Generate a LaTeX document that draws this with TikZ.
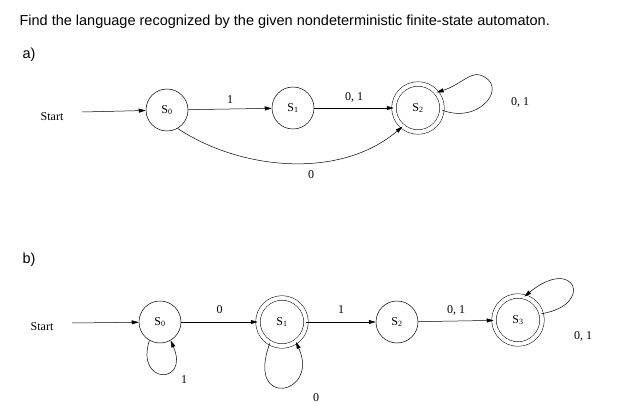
\documentclass[tikz,border=0pt]{standalone}
\usepackage{fontspec}
\setmainfont{Liberation Serif}
\newfontfamily\titlefont{Liberation Sans}
\usetikzlibrary{arrows.meta}
\begin{document}
\begin{tikzpicture}[x=1pt,y=-1pt,
  st/.style={circle,draw,line width=0.5pt,minimum size=42pt,inner sep=0pt,font=\fontsize{12}{13}\selectfont},
  acc/.style={st,double,double distance=4pt,minimum size=48pt},
  lbl/.style={font=\fontsize{12}{13}\selectfont},
  ttl/.style={font=\titlefont\fontsize{14.5}{16}\selectfont,anchor=west},
  tr/.style={-{Triangle[length=7pt,width=4pt]},line width=0.5pt}]
\useasboundingbox (0,0) rectangle (624,417);
\node[ttl] (t) at (16,22) {Find the language recognized by the given nondeterministic finite-state automaton.};
\node[ttl] (la) at (19,55) {a)};
\node[ttl] (lb) at (19,260) {b)};
% a
\node[lbl] (starta) at (52,117) {Start};
\coordinate (sa) at (82,112);
\node[st] (a0) at (167,110) {S\textsubscript{0}};
\node[st] (a1) at (293,108) {S\textsubscript{1}};
\node[acc] (a2) at (418,108) {S\textsubscript{2}};
\draw[tr] (sa) -- (a0);
\draw[tr] (a0) -- node[lbl,above=2pt]{1} (a1);
\draw[tr] (a1) -- node[lbl,above=2pt]{0, 1} (a2);
\draw[tr] (a2.-5) .. controls (480,125) and (510,85) .. (480,75) .. controls (470,72) and (460,85) .. (a2.40);
\node[lbl] (l3) at (520,102) {0, 1};
\draw[tr] (a0.-60) .. controls (240,170) and (340,180) .. (a2.-130);
\node[lbl] (l0a) at (311,175) {0};
% b
\node[lbl] (startb) at (42,327) {Start};
\coordinate (sb) at (72,323);
\node[st] (b0) at (160,322) {S\textsubscript{0}};
\node[acc] (b1) at (282,322) {S\textsubscript{1}};
\node[st] (b2) at (397,322) {S\textsubscript{2}};
\node[acc] (b3) at (518,320) {S\textsubscript{3}};
\draw[tr] (sb) -- (b0);
\draw[tr] (b0) -- node[lbl,above=5pt]{0} (b1);
\draw[tr] (b1) -- node[lbl,above=5pt]{1} (b2);
\draw[tr] (b2) -- node[lbl,above=2pt]{0, 1} (b3);
\draw[tr] (b0.-120) .. controls (135,385) and (190,385) .. (b0.-60);
\node[lbl] (l1) at (184,380) {1};
\draw[tr] (b1.-120) .. controls (245,410) and (320,395) .. (b1.-55);
\node[lbl] (l0) at (316,398) {0};
\draw[tr] (b3.15) .. controls (595,305) and (575,255) .. (b3.75);
\node[lbl] (l4) at (583,336) {0, 1};
\end{tikzpicture}
\end{document}
